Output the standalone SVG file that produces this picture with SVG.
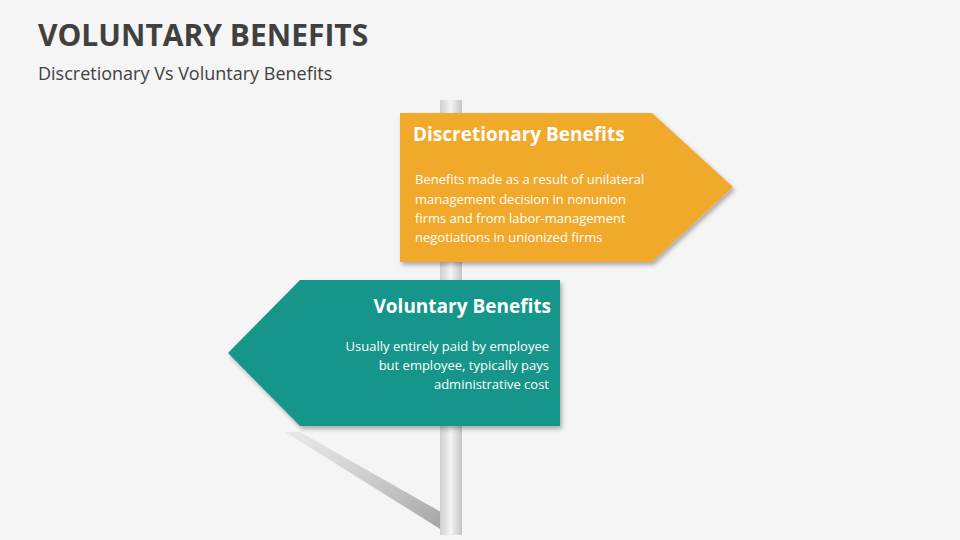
<svg xmlns="http://www.w3.org/2000/svg" width="960" height="540" viewBox="0 0 960 540">
<defs>
<linearGradient id="pole" x1="0" x2="1" y1="0" y2="0"><stop offset="0" stop-color="#d0d0d0"/><stop offset="0.5" stop-color="#f4f4f4"/><stop offset="1" stop-color="#c4c4c4"/></linearGradient>
<linearGradient id="sh" x1="0" y1="0" x2="1" y2="1"><stop offset="0" stop-color="#c8c8c8" stop-opacity="0.3"/><stop offset="1" stop-color="#888" stop-opacity="0.8"/></linearGradient>
<filter id="ds" x="-10%" y="-10%" width="130%" height="130%"><feDropShadow dx="2" dy="3" stdDeviation="2" flood-opacity="0.3"/></filter>
</defs>
<style>
text{font-family:"Open Sans","Noto Sans",sans-serif}
.h{font-size:19px;font-weight:bold;fill:#fff}
.b{font-size:13px;fill:#fff}
</style>
<rect width="960" height="540" fill="#f5f5f5"/>
<text x="38" y="46" font-size="30" font-weight="bold" fill="#404040">VOLUNTARY BENEFITS</text>
<text x="38" y="80" font-size="18" fill="#404040">Discretionary Vs Voluntary Benefits</text>
<polygon points="285,432 300,432 455,520 445,532" fill="url(#sh)"/>
<rect x="440" y="100" width="22" height="435" fill="url(#pole)"/>
<g id="discretionary">
<polygon points="400,113 652,113 733,187 652,262 400,262" fill="#f0a92b" filter="url(#ds)"/>
<text class="h" x="413" y="141">Discretionary Benefits</text>
<text class="b"><tspan x="415" y="184">Benefits made as a result of unilateral</tspan><tspan x="415" y="204">management decision in nonunion</tspan><tspan x="415" y="223">firms and from labor-management</tspan><tspan x="415" y="242">negotiations in unionized firms</tspan></text>
</g>
<g id="voluntary">
<polygon points="560,280 300,280 228,353 300,426 560,426" fill="#14958a" filter="url(#ds)"/>
<text class="h" x="551" y="313" text-anchor="end">Voluntary Benefits</text>
<text class="b" text-anchor="end"><tspan x="549" y="351">Usually entirely paid by employee</tspan><tspan x="549" y="370">but employee, typically pays</tspan><tspan x="549" y="389">administrative cost</tspan></text>
</g>
<g id="connectors"/>
</svg>
